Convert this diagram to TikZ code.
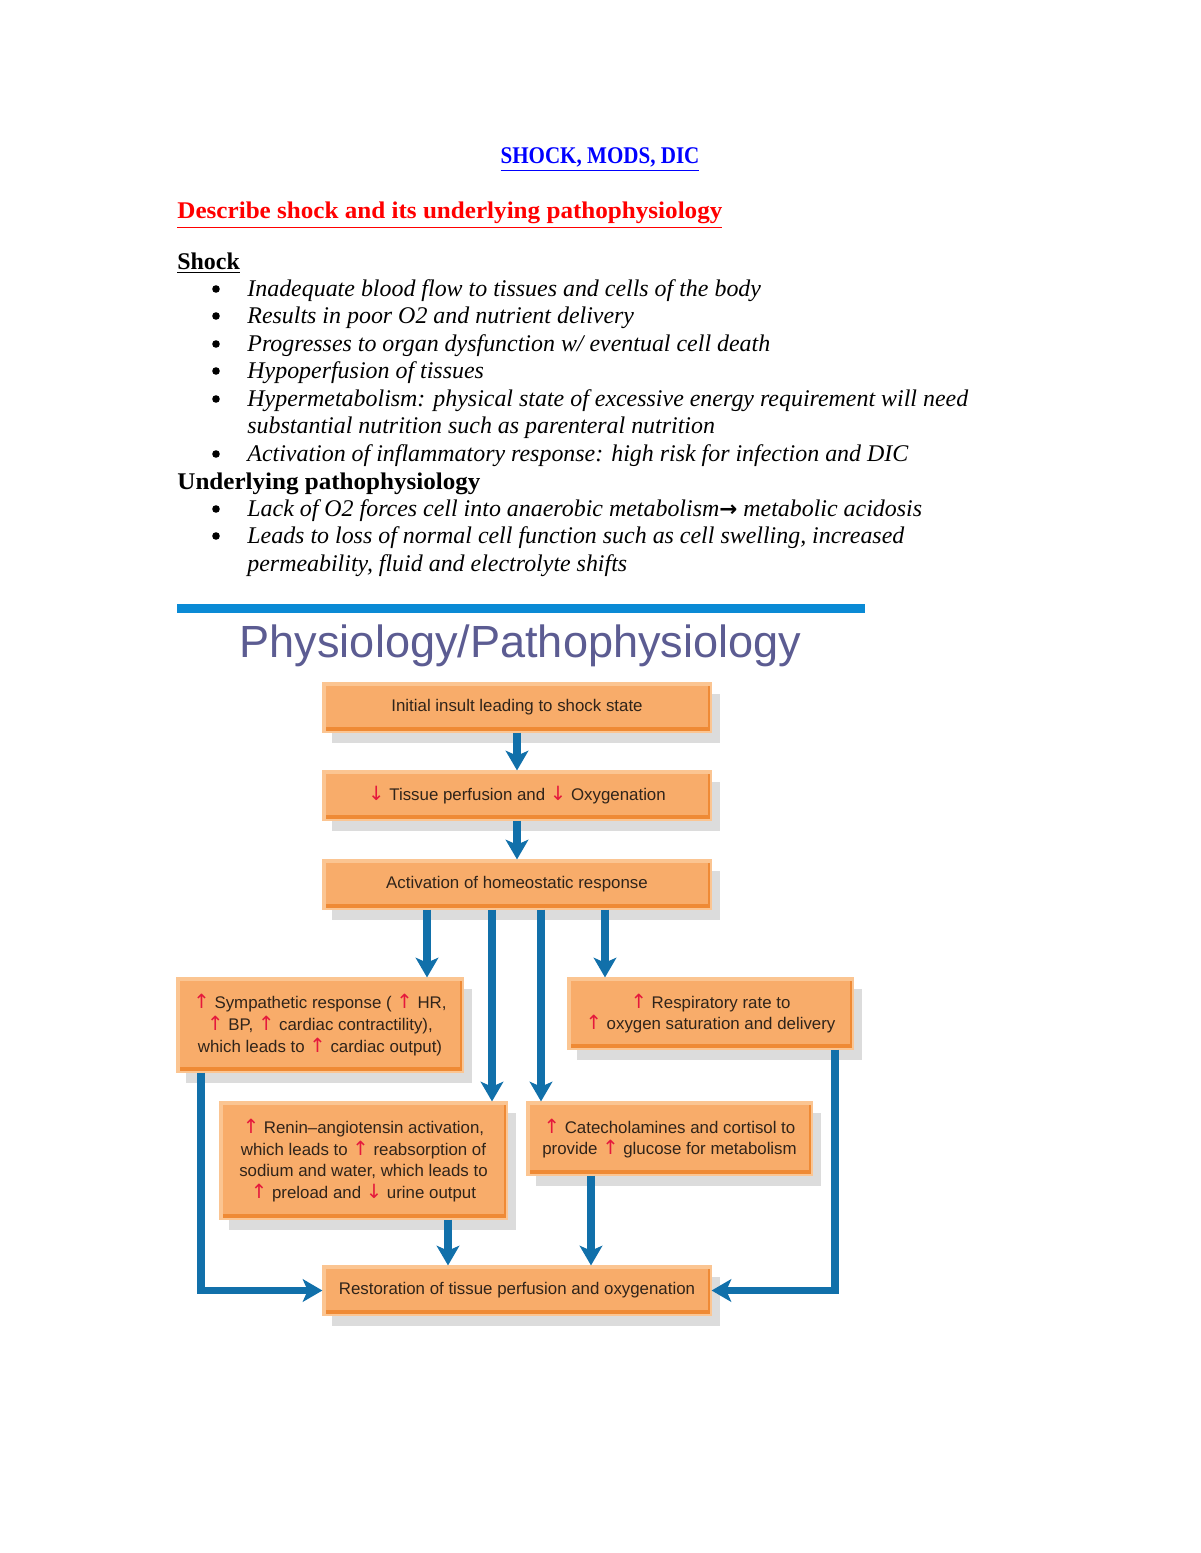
\documentclass[tikz,border=0pt]{standalone}
\usepackage{fontspec}
\setmainfont{Liberation Serif}
\newfontfamily\arialfam{Liberation Sans}
\newfontfamily\djvfam{DejaVu Sans}
\usetikzlibrary{arrows.meta,shadows}
\definecolor{boxfill}{HTML}{F8AC6A}
\definecolor{boxdark}{HTML}{EF8A35}
\definecolor{boxlight}{HTML}{FBC592}
\definecolor{shadowgray}{HTML}{DCDCDC}
\definecolor{arrblue}{HTML}{1170AA}
\definecolor{barblue}{HTML}{0A8AD5}
\definecolor{titlecol}{HTML}{5C5C92}
\definecolor{boxtext}{HTML}{30241A}
\definecolor{arrred}{HTML}{E5183C}
\definecolor{headblue}{HTML}{0000FF}
\definecolor{headred}{HTML}{FF0000}
\newcommand\myup{{\color{arrred}\djvfam\fontsize{10}{11}\selectfont ↑}}
\newcommand\mydn{{\color{arrred}\djvfam\fontsize{10}{11}\selectfont ↓}}
\newcommand\boxfont{\arialfam\fontsize{8.6}{11}\selectfont}
\newcommand\bodyfont{\fontsize{12.2}{14}\selectfont}
\tikzset{
  bodyline/.style={anchor=base west, inner sep=0pt, font=\bodyfont\itshape},
  headline/.style={anchor=base west, inner sep=0pt, font=\bodyfont\bfseries},
  bul/.style={fill=black},
  box/.style={fill=boxfill, draw=boxlight, line width=0.6pt, inner sep=2pt,
    align=center, font=\boxfont, text=boxtext,
    drop shadow={shadow xshift=4.6pt, shadow yshift=-5.6pt, fill=shadowgray, opacity=1},
    path picture={
      \fill[boxdark] (path picture bounding box.south west) rectangle ([yshift=2.6pt]path picture bounding box.south east);
      \fill[boxdark] ([xshift=-1.4pt]path picture bounding box.north east) rectangle (path picture bounding box.south east);
      \fill[boxlight] (path picture bounding box.north west) rectangle ([xshift=1.4pt]path picture bounding box.south west);
      \fill[boxlight] (path picture bounding box.north west) rectangle ([yshift=-1.4pt]path picture bounding box.north east);
    }},
  arr/.style={draw=arrblue, line width=3.6pt, -{Stealth[length=10pt,width=11.5pt,inset=2.5pt]}},
}
\begin{document}
\begin{tikzpicture}[x=0.51pt,y=-0.51pt]
\useasboundingbox (0,0) rectangle (1200,1553);
\fill[white] (0,0) rectangle (1200,1553);

% headings
\node[anchor=base, inner sep=0pt, font=\bodyfont\bfseries, text=headblue, xscale=0.88] (h0) at (600,164) {\underline{SHOCK, MODS, DIC}};
\node[headline, text=headred, xscale=1.05] (h1) at (177,219) {\underline{Describe shock and its underlying pathophysiology}};
\node[headline] (h2) at (177,269) {\underline{Shock}};

\foreach \yy/\tt [count=\i] in {
  296/{Inadequate blood flow to tissues and cells of the body},
  323/{Results in poor O2 and nutrient delivery},
  351/{Progresses to organ dysfunction w/ eventual cell death},
  378/{Hypoperfusion of tissues},
  406/{Hypermetabolism: physical state of excessive energy requirement will need},
  461/{Activation of inflammatory response: high risk for infection and DIC}}{
  \fill[bul] (216,\yy-7) circle (3.8);
  \node[bodyline] (s\i) at (247,\yy) {\tt};
}
\node[bodyline] (s5b) at (247,433) {substantial nutrition such as parenteral nutrition};

\node[headline, xscale=1.048] (h3) at (177,489) {Underlying pathophysiology};
\fill[bul] (216,509) circle (3.8);
\node[bodyline] (u1) at (247,516) {Lack of O2 forces cell into anaerobic metabolism{\upshape\djvfam\bfseries\fontsize{11}{14}\selectfont →} metabolic acidosis};
\fill[bul] (216,536) circle (3.8);
\node[bodyline] (u2) at (247,543) {Leads to loss of normal cell function such as cell swelling, increased};
\node[bodyline] (u2b) at (247,571) {permeability, fluid and electrolyte shifts};

% bar and title
\fill[barblue] (177,604) rectangle (865,613);
\node[anchor=base, inner sep=0pt, font=\arialfam\fontsize{23}{26}\selectfont, text=titlecol] (title) at (520.5,657) {Physiology/Pathophysiology};

% boxes
\node[box, minimum width={388*0.51pt}, minimum height={49*0.51pt}] (b1) at (517,707.5) {Initial insult leading to shock state};
\node[box, minimum width={388*0.51pt}, minimum height={49*0.51pt}] (b2) at (517,795.5) {\mydn\ Tissue perfusion and \mydn\ Oxygenation};
\node[box, minimum width={388*0.51pt}, minimum height={49*0.51pt}] (b3) at (517,884.5) {Activation of homeostatic response};
\node[box, minimum width={286*0.51pt}, minimum height={94*0.51pt}] (b4) at (320,1025) {\myup\ Sympathetic response ( \myup\ HR,\\ \myup\ BP, \myup\ cardiac contractility),\\ which leads to \myup\ cardiac output)};
\node[box, minimum width={285*0.51pt}, minimum height={71*0.51pt}] (b5) at (710.5,1013.5) {\myup\ Respiratory rate to\\ \myup\ oxygen saturation and delivery};
\node[box, minimum width={287*0.51pt}, minimum height={117*0.51pt}] (b6) at (363.5,1160.5) {\myup\ Renin–angiotensin activation,\\ which leads to \myup\ reabsorption of\\ sodium and water, which leads to\\ \myup\ preload and \mydn\ urine output};
\node[box, minimum width={285*0.51pt}, minimum height={73*0.51pt}] (b7) at (669.5,1138.5) {\myup\ Catecholamines and cortisol to\\ provide \myup\ glucose for metabolism};
\node[box, minimum width={388*0.51pt}, minimum height={49*0.51pt}] (b8) at (517,1290.5) {Restoration of tissue perfusion and oxygenation};

% helper x positions
\coordinate (x201) at (201,0);
\coordinate (x427) at (427,0);
\coordinate (x492) at (492,0);
\coordinate (x541) at (541,0);
\coordinate (x605) at (605,0);
\coordinate (x448) at (448,0);
\coordinate (x591) at (591,0);
\coordinate (x835) at (835,0);

% connectors
\draw[arr] (b1.south) -- (b2.north);
\draw[arr] (b2.south) -- (b3.north);
\draw[arr] (b3.south -| x427) -- (b4.north -| x427);
\draw[arr] (b3.south -| x492) -- (b6.north -| x492);
\draw[arr] (b3.south -| x541) -- (b7.north -| x541);
\draw[arr] (b3.south -| x605) -- (b5.north -| x605);
\draw[arr] (b4.south -| x201) |- (b8.west);
\draw[arr] (b5.south -| x835) |- (b8.east);
\draw[arr] (b6.south -| x448) -- (b8.north -| x448);
\draw[arr] (b7.south -| x591) -- (b8.north -| x591);
\end{tikzpicture}
\end{document}
